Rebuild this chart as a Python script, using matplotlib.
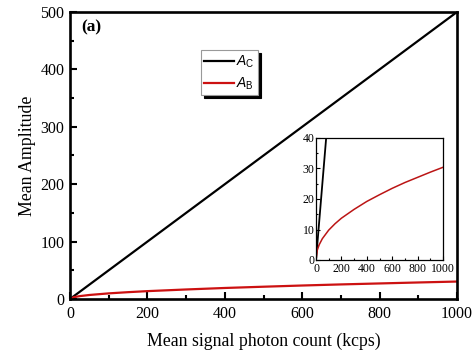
import matplotlib
matplotlib.use("Agg")
from matplotlib import pyplot as plt
from matplotlib.ticker import MultipleLocator

# data
photon_count = [0, 10, 25, 50, 100, 150, 200, 300, 400, 500, 600, 700, 800, 900, 1000]
amp_b = [0, 3.2, 5.0, 7.0, 9.8, 11.9, 13.7, 16.6, 19.2, 21.4, 23.5, 25.4, 27.1, 28.8, 30.4]
amp_c_x = [0, 1000]
amp_c = [0, 500]

plt.rcParams['font.family'] = ['Liberation Serif', 'DejaVu Serif']
plt.rcParams['mathtext.fontset'] = 'custom'
plt.rcParams['mathtext.it'] = 'Liberation Sans:italic'
plt.rcParams['mathtext.rm'] = 'Liberation Sans'

fig = plt.figure(figsize=(4.74, 3.51), dpi=100)
ax = fig.add_axes([70 / 474, 1 - 299 / 351, 387 / 474, 287 / 351])

ax.plot(amp_c_x, amp_c, color='black', lw=1.6, label=r'$A_{\rm C}$')
ax.plot(photon_count, amp_b, color='#cc1111', lw=1.6, label=r'$A_{\rm B}$')
ax.set_xlim(0, 1000)
ax.set_ylim(0, 500)
ax.xaxis.set_major_locator(MultipleLocator(200))
ax.xaxis.set_minor_locator(MultipleLocator(100))
ax.yaxis.set_major_locator(MultipleLocator(100))
ax.yaxis.set_minor_locator(MultipleLocator(50))
ax.tick_params(which='both', direction='in', labelsize=11.5, width=1.5)
ax.tick_params(which='major', length=5)
ax.tick_params(which='minor', length=3)
ax.tick_params(axis='x', pad=5)
ax.tick_params(axis='y', pad=4)
for s in ax.spines.values():
    s.set_linewidth(1.9)
ax.set_xlabel('Mean signal photon count (kcps)', fontsize=12.8, labelpad=8)
ax.set_ylabel('Mean Amplitude', fontsize=12.8, labelpad=3)
ax.text(0.028, 0.973, '(a)', transform=ax.transAxes, fontsize=12.5,
        fontweight='bold', va='top')

leg = ax.legend(loc='upper left', bbox_to_anchor=((201 - 70) / 387, (299 - 50) / 287),
                frameon=True, fancybox=False, shadow={'color': 'black', 'alpha': 1},
                fontsize=10, handlelength=2.1, borderpad=0.25, labelspacing=0.4,
                handletextpad=0.2, borderaxespad=0, handleheight=0.7)
leg.get_frame().set_edgecolor('#999999')
leg.get_frame().set_linewidth(0.8)

ins = fig.add_axes([316 / 474, 1 - 260 / 351, 127 / 474, 122 / 351])
ins.plot(amp_c_x, amp_c, color='black', lw=1.3)
ins.plot(photon_count, amp_b, color='#bb1515', lw=1.1)
ins.set_xlim(0, 1000)
ins.set_ylim(0, 40)
ins.xaxis.set_major_locator(MultipleLocator(200))
ins.xaxis.set_minor_locator(MultipleLocator(100))
ins.yaxis.set_major_locator(MultipleLocator(10))
ins.yaxis.set_minor_locator(MultipleLocator(5))
ins.tick_params(which='both', direction='in', labelsize=8.5, width=0.8)
ins.tick_params(axis='x', pad=2.5)
ins.tick_params(axis='y', pad=1)
ins.tick_params(which='major', length=3)
ins.tick_params(which='minor', length=1.5)
for s in ins.spines.values():
    s.set_linewidth(0.9)

fig.savefig('out.png', dpi=100)
